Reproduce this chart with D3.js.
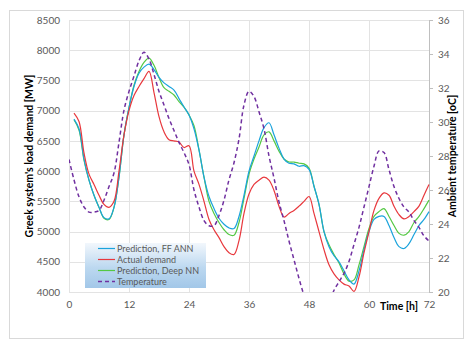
<!DOCTYPE html>
<html><head><meta charset="utf-8">
<script src="https://cdn.jsdelivr.net/npm/d3@7"></script>
<style>body{margin:0;background:#fff;} svg{display:block;}</style>
</head><body>
<svg id="c" width="474" height="346"></svg>
<script>
const hoursDemand = d3.range(1, 73);
const hoursTemp = d3.range(0, 73);
const actualDemand = [6960,6820,6300,5950,5780,5600,5450,5400,5500,6000,6600,7000,7250,7400,7530,7650,7300,6900,6650,6520,6500,6480,6390,6420,
 6000,5780,5500,5200,5030,4900,4750,4650,4620,4850,5300,5620,5780,5850,5900,5850,5680,5420,5240,5300,5350,5420,5500,5580,
 5300,5000,4700,4450,4300,4200,4130,4100,4010,4250,4650,5000,5350,5550,5640,5600,5420,5280,5210,5250,5330,5420,5600,5780];
const predFFANN = [6860,6700,6200,5850,5600,5400,5230,5210,5400,5900,6600,7050,7400,7620,7720,7770,7680,7550,7460,7400,7340,7200,7060,6930,
 6700,6350,5900,5580,5380,5220,5120,5060,5050,5250,5600,6000,6250,6500,6720,6800,6600,6380,6200,6130,6120,6080,6090,6030,
 5750,5450,5000,4750,4600,4500,4350,4200,4130,4350,4700,5000,5200,5250,5250,5100,4900,4750,4720,4800,4950,5100,5200,5330];
const predDeepNN = [6850,6680,6180,5850,5600,5400,5220,5200,5400,5900,6600,7050,7420,7650,7800,7870,7750,7550,7380,7320,7260,7150,7060,6930,
 6750,6350,5900,5500,5300,5150,5030,4950,4940,5150,5550,5950,6200,6400,6600,6650,6500,6330,6200,6150,6150,6130,6120,6050,
 5750,5450,5000,4780,4620,4480,4300,4180,4200,4450,4750,5050,5250,5330,5380,5250,5100,4970,4940,5000,5150,5250,5380,5520];
const temperature = [27.8,26.6,25.6,25.0,24.7,24.7,24.8,25.4,26.2,27.0,28.8,30.7,31.8,32.7,33.6,34.1,33.7,32.8,31.8,31.0,30.2,29.5,28.8,28.2,27.5,
 26.0,25.0,24.2,23.9,23.9,24.5,25.4,26.6,27.6,29.0,31.0,31.8,31.5,30.6,29.6,28.0,26.7,25.3,24.2,23.0,21.9,20.8,19.8,19.0,
 18.5,18.3,18.6,19.3,20.1,20.6,21.1,21.8,22.8,23.8,25.0,26.2,27.4,28.3,28.2,27.2,26.2,25.5,25.0,24.7,24.2,23.8,23.3,23.0];
const xTicks = [0,12,24,36,48,60,72];
const yLeftTicks = [4000,4500,5000,5500,6000,6500,7000,7500,8000,8500];
const yRightTicks = [20,22,24,26,28,30,32,34,36];
const legendLabels = ["Prediction, FF ANN","Actual demand","Prediction, Deep NN","Temperature"];

const colors = {ff:"#1aa3dc", act:"#e8383d", deep:"#54c843", temp:"#7030a0"};
const svg = d3.select("#c");
const L=69, R=429, T=20, B=292;
const x = d3.scaleLinear().domain([0,72]).range([L,R]);
const y = d3.scaleLinear().domain([4000,8500]).range([B,T]);
const y2 = d3.scaleLinear().domain([20,36]).range([B,T]);
const font = "Lato, 'Open Sans', sans-serif";

svg.append("rect").attr("x",9.5).attr("y",10.5).attr("width",454).attr("height",328)
  .attr("fill","#fff").attr("stroke","#d9d9d9");

// grid
const g = svg.append("g");
g.selectAll(".h").data(yLeftTicks).join("line")
  .attr("x1",L).attr("x2",R).attr("y1",d=>Math.round(y(d))+0.5).attr("y2",d=>Math.round(y(d))+0.5)
  .attr("stroke","#e3e3e3");
g.selectAll(".v").data(xTicks.slice(0,-1)).join("line")
  .attr("x1",d=>Math.round(x(d))+0.5).attr("x2",d=>Math.round(x(d))+0.5).attr("y1",T).attr("y2",B)
  .attr("stroke","#e3e3e3");

// left axis labels
const ax1 = svg.append("g").attr("transform",`translate(${L},0)`)
  .call(d3.axisLeft(y).tickValues(yLeftTicks).tickSize(0).tickPadding(9).tickFormat(d3.format("d")));
ax1.select(".domain").remove();
ax1.selectAll("text").attr("font-family",font).attr("font-size",10).attr("fill","#595959");

// bottom axis labels
const ax2 = svg.append("g").attr("transform",`translate(0,${B})`)
  .call(d3.axisBottom(x).tickValues(xTicks).tickSize(0).tickPadding(9));
ax2.select(".domain").remove();
ax2.selectAll("text").attr("font-family",font).attr("font-size",10).attr("fill","#595959");

// right axis
const ax3 = svg.append("g").attr("transform",`translate(${R},0)`)
  .call(d3.axisRight(y2).tickValues(yRightTicks).tickSize(4).tickPadding(5));
ax3.select(".domain").attr("stroke","#bfbfbf");
ax3.selectAll("line").attr("stroke","#bfbfbf");
ax3.selectAll("text").attr("font-family",font).attr("font-size",10).attr("fill","#595959");

// clip
svg.append("clipPath").attr("id","pc").append("rect").attr("x",L).attr("y",T-5).attr("width",R-L+2).attr("height",B-T+5);

const line = d3.line().x(d=>x(d[0])).y(d=>y(d[1])).curve(d3.curveCatmullRom);
const lineT = d3.line().x(d=>x(d[0])).y(d=>y2(d[1])).curve(d3.curveCatmullRom);
const plot = svg.append("g").attr("clip-path","url(#pc)");
plot.append("path").datum(d3.zip(hoursDemand,predDeepNN)).attr("d",line).attr("fill","none").attr("stroke",colors.deep).attr("stroke-width",1.2);
plot.append("path").datum(d3.zip(hoursDemand,predFFANN)).attr("d",line).attr("fill","none").attr("stroke",colors.ff).attr("stroke-width",1.2);
plot.append("path").datum(d3.zip(hoursDemand,actualDemand)).attr("d",line).attr("fill","none").attr("stroke",colors.act).attr("stroke-width",1.2);
plot.append("path").datum(d3.zip(hoursTemp,temperature)).attr("d",lineT).attr("fill","none").attr("stroke",colors.temp)
  .attr("stroke-width",1.5).attr("stroke-dasharray","4,3");

// titles
svg.append("text").attr("transform",`translate(33,${(T+B)/2}) rotate(-90)`).attr("text-anchor","middle")
  .attr("font-family",font).attr("font-weight","bold").attr("font-size",10.5).attr("fill","#000")
  .text("Greek system's load demand [MW]");
svg.append("text").attr("transform",`translate(456,${(T+B)/2}) rotate(-90)`).attr("text-anchor","middle")
  .attr("font-family",font).attr("font-weight","bold").attr("font-size",10.5).attr("fill","#000")
  .text("Ambient temperature [oC]");
svg.append("text").attr("x",399).attr("y",310).attr("text-anchor","middle")
  .attr("font-family",font).attr("font-weight","bold").attr("font-size",10.5).attr("fill","#000")
  .text("Time [h]");

// legend
const defs = svg.append("defs");
const gr = defs.append("linearGradient").attr("id","lg").attr("x1",0).attr("y1",0).attr("x2",0).attr("y2",1);
gr.append("stop").attr("offset","0%").attr("stop-color","#f2f7fc");
gr.append("stop").attr("offset","55%").attr("stop-color","#bcd8f0");
gr.append("stop").attr("offset","100%").attr("stop-color","#a2c7e8");
const lg = svg.append("g");
lg.append("rect").attr("x",85).attr("y",243).attr("width",121).attr("height",45).attr("fill","url(#lg)");
const lcol = [colors.ff, colors.act, colors.deep, colors.temp];
legendLabels.forEach((t,i)=>{
  const yy = 248.5 + i*11;
  lg.append("line").attr("x1",98).attr("x2",115).attr("y1",yy).attr("y2",yy).attr("stroke",lcol[i])
    .attr("stroke-width", i==3?1.5:1.2).attr("stroke-dasharray", i==3?"4,3":null);
  lg.append("text").attr("x",117).attr("y",yy).attr("dy","0.35em").attr("font-family",font)
    .attr("font-size",9).attr("fill","#595959").text(t);
});
</script>
</body></html>
